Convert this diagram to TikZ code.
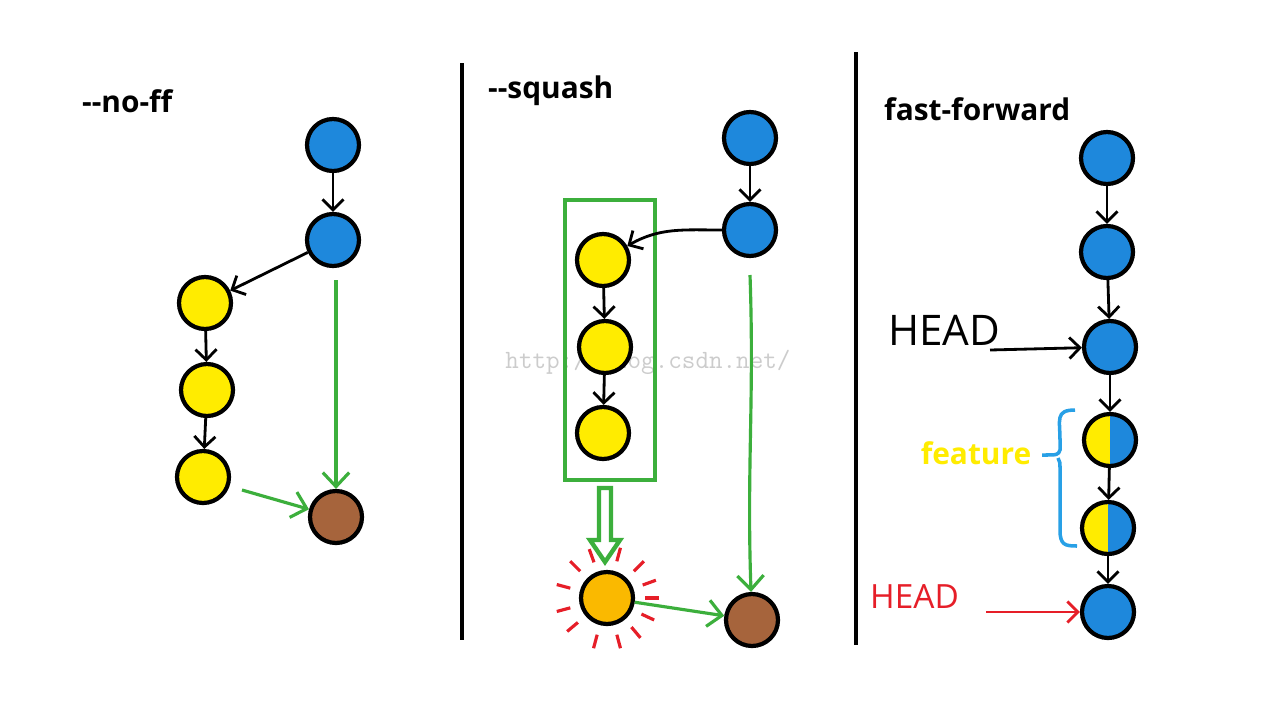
\documentclass[tikz,border=0pt]{standalone}
\usepackage{fontspec}
\setsansfont{Open Sans}
\usetikzlibrary{arrows.meta,calc}
\definecolor{cblue}{RGB}{30,136,220}
\definecolor{cyel}{RGB}{255,236,0}
\definecolor{cbrown}{RGB}{166,100,60}
\definecolor{corange}{RGB}{250,185,0}
\definecolor{cgreen}{RGB}{60,175,60}
\definecolor{cred}{RGB}{230,30,40}
\definecolor{cbr}{RGB}{40,160,230}
\begin{document}
\begin{tikzpicture}[x=0.02cm,y=-0.02cm,
  commit/.style={circle,draw=black,line width=2.4pt,minimum size=1.04cm,inner sep=0pt},
  bl/.style={commit,fill=cblue},
  ye/.style={commit,fill=cyel},
  br/.style={commit,fill=cbrown},
  half/.style={commit,fill=cblue,path picture={\fill[cyel] (path picture bounding box.south west) rectangle (path picture bounding box.north);}},
  blk/.style={draw=black,line width=1.6pt,-{Straight Barb[length=6pt,width=12pt]}},
  grn/.style={draw=cgreen,line width=1.8pt,-{Straight Barb[length=8pt,width=15pt]}},
  ttl/.style={font=\sffamily\bfseries\fontsize{17}{20}\selectfont,anchor=west},
  ray/.style={cred,line width=1.8pt}]
\useasboundingbox[fill=white] (0,0) rectangle (1284,704);
% dividers
\draw[line width=2.5pt] (462,63) -- (462,640);
\draw[line width=2.5pt] (856,52) -- (856,645);
% titles
\node[ttl] (t1) at (76,101) {{-}{-}no-ff};
\node[ttl] (t2) at (482,91) {{-}{-}squash};
\node[ttl] (t3) at (878,109) {fast-forward};
% watermark
\node[font=\ttfamily\fontsize{15}{18}\selectfont,text=black!20] (wm) at (648,362) {http://blog.csdn.net/};
% panel 1
\node[bl] (a1) at (333,145) {};
\node[bl] (a2) at (333,240) {};
\node[ye] (a3) at (205,303) {};
\node[ye] (a4) at (207,390) {};
\node[ye] (a5) at (203,477) {};
\node[br] (a6) at (336,517) {};
\draw[blk] (a1) -- (a2);
\draw[blk] (a2) -- (a3);
\draw[blk] (a3) -- (a4);
\draw[blk] (a4) -- (a5);
\coordinate (g1) at (336,280);
\draw[grn] (g1) -- (a6);
\coordinate (g2) at (242,490);
\draw[grn] (g2) -- (a6);
% panel 2
\node[bl] (b1) at (750,138) {};
\node[bl] (b2) at (750,230) {};
\node[ye] (b3) at (603,260) {};
\node[ye] (b4) at (605,347) {};
\node[ye] (b5) at (603,433) {};
\node[draw=cgreen,line width=2.5pt,minimum width=1.8cm,minimum height=5.6cm] (box) at (610,340) {};
\node[commit,fill=corange] (b6) at (607,598) {};
\node[br] (b7) at (752,620) {};
\draw[blk] (b1) -- (b2);
\draw[blk] (b2.west) to[out=180,in=30] (b3);
\draw[blk] (b3) -- (b4);
\draw[blk] (b4) -- (b5);
\coordinate (g3) at (750,275);
\draw[grn] (g3) to[out=-88,in=92] (b7);
\draw[grn] (b6) -- (b7);
\draw[cgreen,line width=2.5pt,fill=white] (599,488) -- (611,488) -- (611,540) -- (620,540) -- (605,562) -- (590,540) -- (599,540) -- cycle;
\foreach \ang in {0,25,50,75,105,140,165,195,225,250,285,315,340} {
  \draw[ray] ($(b6)+(\ang:38)$) -- ($(b6)+(\ang:52)$);
}
% panel 3
\node[bl] (c1) at (1107,158) {};
\node[bl] (c2) at (1107,252) {};
\node[bl] (c3) at (1110,347) {};
\node[half] (c4) at (1110,440) {};
\node[half] (c5) at (1108,528) {};
\node[bl] (c6) at (1108,612) {};
\draw[blk] (c1) -- (c2);
\draw[blk] (c2) -- (c3);
\draw[blk] (c3) -- (c4);
\draw[blk] (c4) -- (c5);
\draw[blk] (c5) -- (c6);
\node[font=\sffamily\fontsize{24}{28}\selectfont,anchor=west] (h1) at (882,330) {HEAD};
\coordinate (h1s) at (990,350);
\draw[blk] (h1s) -- (c3);
\node[font=\sffamily\bfseries\fontsize{17}{20}\selectfont,text=cyel] (feat) at (976,453) {feature};
\draw[cbr,line width=2pt] (1075,410) .. controls (1055,410) and (1060,420) .. (1060,440) -- (1060,450) .. controls (1058,455) .. (1042,455) (1058,458) .. controls (1060,462) .. (1060,470) -- (1060,530) .. controls (1060,545) and (1065,546) .. (1077,546);
\node[font=\sffamily\fontsize{19}{22}\selectfont,text=cred,anchor=west] (h2) at (864,597) {HEAD};
\coordinate (h2s) at (986,612);
\draw[cred,line width=1.6pt,-{Straight Barb[length=6pt,width=12pt]}] (h2s) -- (c6);
\end{tikzpicture}
\end{document}
